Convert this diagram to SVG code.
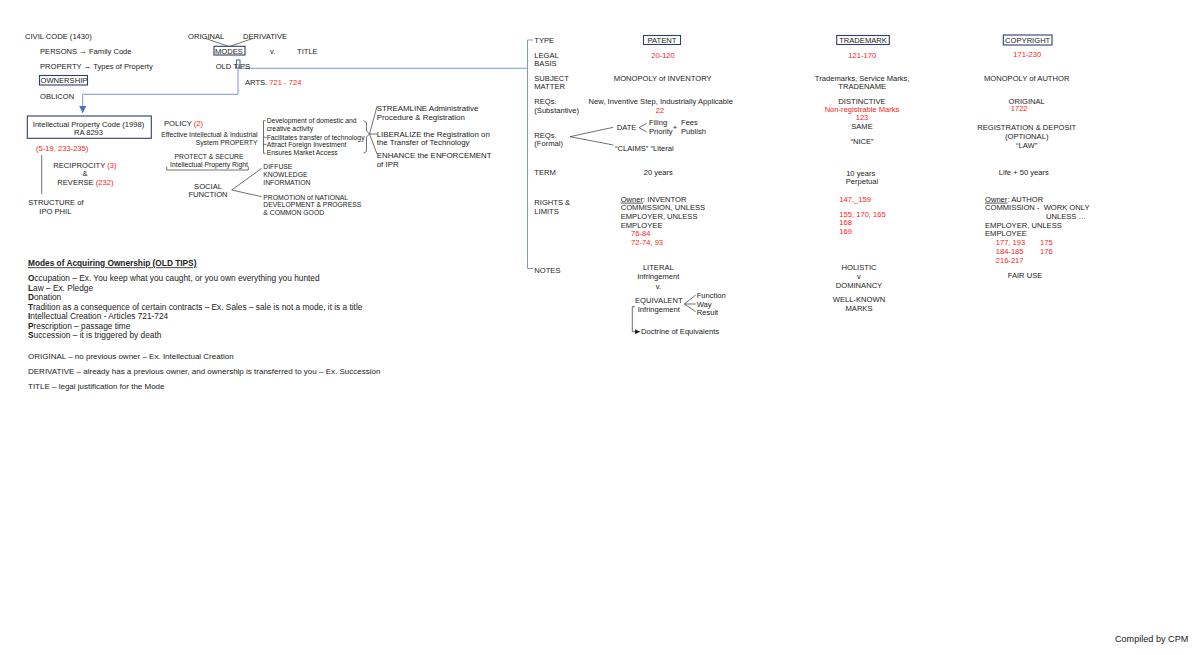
<svg xmlns="http://www.w3.org/2000/svg" width="1200" height="655" viewBox="0 0 1200 655">
<defs>
<style>
text{font-family:"Liberation Sans",Arial,sans-serif;font-size:7.6px;fill:#222}
.s{font-size:6.8px}
.l{font-size:7.9px}
.m{font-size:8.3px}
.n{font-size:8px}
.r{fill:#f22}
.c{text-anchor:middle}
.e{text-anchor:end}
.b{font-weight:bold}
.u{text-decoration:underline}
.box{fill:none;stroke:#2f3e6b;stroke-width:1.1}
.ln{fill:none;stroke:#333;stroke-width:0.7}
.bl{fill:none;stroke:#7a99d8;stroke-width:1}
</style>
<marker id="ab" viewBox="0 0 10 10" refX="10" refY="5" markerWidth="7" markerHeight="7" orient="auto" markerUnits="userSpaceOnUse"><path d="M0 0L10 5L0 10z" fill="#4a6fc0"/></marker>
<marker id="ak" viewBox="0 0 10 10" refX="10" refY="5" markerWidth="5" markerHeight="5" orient="auto" markerUnits="userSpaceOnUse"><path d="M0 0L10 5L0 10z" fill="#222"/></marker>
</defs>
<rect width="1200" height="655" fill="#fff"/>

<g id="connectors">
<path class="bl" d="M240 68.3H527.5"/>
<path class="bl" d="M533 40H527.5V268.5H533"/>
<path class="bl" d="M238 68.3V94.3H82.7V113" marker-end="url(#ab)"/>
<path class="ln" d="M205 38.3L228.5 46.3M253.3 38.3L230 46.3"/>
<path class="ln" d="M41.7 155V194.3"/>
<path class="ln" d="M166.7 166.7V170H248.3V166.7"/>
<path class="ln" d="M261.7 168.3L231.7 190L261.7 196.7"/>
<path class="ln" d="M265.5 120.7H263.5V153.3H265.5M263.5 137.3H266.5M263.5 144.3H266.5"/>
<path class="ln" d="M363.5 120.7L366.5 122.5V131L369.5 134L366.5 137V151.5L363.5 153.3"/>
<path class="ln" d="M369.5 134L377 106.5M369.5 134H377M369.5 134L377 154"/>
<path class="ln" d="M613.3 127.3L570 136.7L613.3 145"/>
<path class="ln" d="M646.7 123.3L639 127.7L646.7 132"/>
<path class="ln" d="M695.7 295L684.3 304L695.7 311.7M684.3 304H695.7"/>
<path class="ln" d="M635 306.7H632.3V331.7H640" marker-end="url(#ak)"/>
</g>

<g id="civil-code">
<text x="25" y="38.5">CIVIL CODE (1430)</text>
<text x="40" y="53.5">PERSONS → Family Code</text>
<text x="40" y="69">PROPERTY → Types of Property</text>
<rect class="box" x="39.5" y="75.5" width="48" height="9.5"/>
<text x="40.5" y="83">OWNERSHIP</text>
<text x="40" y="98.5">OBLICON</text>
</g>

<g id="modes">
<text x="188" y="38.5">ORIGINAL</text>
<text x="243" y="38.5">DERIVATIVE</text>
<rect class="box" x="214" y="46.3" width="31" height="8.7"/>
<text x="215" y="53.5">MODES</text>
<text x="270" y="53.5">v.</text>
<text x="297" y="53.5">TITLE</text>
<text x="215.7" y="69">OLD TIPS</text>
<rect x="236.5" y="60" width="3.5" height="8" fill="none" stroke="#3a5a9a" stroke-width="0.9"/>
<text x="245" y="85">ARTS. <tspan class="r">721 - 724</tspan></text>
</g>

<g id="ipc">
<rect class="box" x="27.3" y="116" width="124" height="22.3" stroke-width="1.4"/>
<text class="c" x="88.5" y="126.7">Intellectual Property Code (1998)</text>
<text class="c" x="88.5" y="135">RA 8293</text>
<text class="r" x="36" y="151">(5-19, 233-235)</text>
<text x="53.3" y="167.7">RECIPROCITY <tspan class="r">(3)</tspan></text>
<text class="c" x="85" y="176">&amp;</text>
<text x="57.3" y="184.5">REVERSE <tspan class="r">(232)</tspan></text>
<text x="28.3" y="205">STRUCTURE of</text>
<text x="39.3" y="213.8">IPO PHIL</text>
</g>

<g id="policy">
<text x="164" y="126">POLICY <tspan class="r">(2)</tspan></text>
<text class="s e" x="257.5" y="136.5">Effective Intellectual &amp; Industrial</text>
<text class="s e" x="257.5" y="144.5">System PROPERTY</text>
<text class="s c" x="209" y="158.5">PROTECT &amp; SECURE</text>
<text class="s c" x="209" y="166.5">Intellectual Property Right</text>
<text class="c" x="208" y="188.8">SOCIAL</text>
<text class="c" x="208" y="197">FUNCTION</text>
<text class="s" x="263.3" y="169">DIFFUSE</text>
<text class="s" x="263.3" y="177.3">KNOWLEDGE</text>
<text class="s" x="263.3" y="185">INFORMATION</text>
<text class="s" x="263.3" y="199.7">PROMOTION of NATIONAL</text>
<text class="s" x="263.3" y="207.3">DEVELOPMENT &amp; PROGRESS</text>
<text class="s" x="263.3" y="215">&amp; COMMON GOOD</text>
</g>

<g id="policy-list">
<text class="s" x="266.7" y="123.3">Development of domestic and</text>
<text class="s" x="266.7" y="131.3">creative activity</text>
<text class="s" x="266.7" y="139.6">Facilitates transfer of technology</text>
<text class="s" x="266.7" y="146.6">Attract Foreign Investment</text>
<text class="s" x="266.7" y="154.6">Ensures Market Access</text>
</g>

<g id="objectives">
<text class="l" x="376.7" y="110.6">STREAMLINE Administrative</text>
<text class="l" x="376.7" y="120">Procedure &amp; Registration</text>
<text class="l" x="376.7" y="137">LIBERALIZE the Registration on</text>
<text class="l" x="376.7" y="145.3">the Transfer of Technology</text>
<text class="l" x="376.7" y="157.5">ENHANCE the ENFORCEMENT</text>
<text class="l" x="376.7" y="166.6">of IPR</text>
</g>

<g id="row-labels">
<text x="534.3" y="42.7">TYPE</text>
<text x="534.3" y="57.7">LEGAL</text>
<text x="534.3" y="66">BASIS</text>
<text x="534.3" y="81">SUBJECT</text>
<text x="534.3" y="89.4">MATTER</text>
<text x="534.3" y="104.4">REQs.</text>
<text x="534.3" y="113.4">(Substantive)</text>
<text x="534.3" y="137.7">REQs.</text>
<text x="534.3" y="146">(Formal)</text>
<text x="534.3" y="175.4">TERM</text>
<text x="534.3" y="205">RIGHTS &amp;</text>
<text x="534.3" y="213.7">LIMITS</text>
<text x="534.3" y="272.7">NOTES</text>
</g>

<g id="patent">
<rect class="box" x="643.5" y="35.5" width="37" height="9"/>
<text class="c" x="662" y="42.7">PATENT</text>
<text class="c r" x="663" y="57.7">20-120</text>
<text class="c" x="662.7" y="81">MONOPOLY of INVENTORY</text>
<text class="c" x="660.8" y="104.4">New, Inventive Step, Industrially Applicable</text>
<text class="c r" x="660" y="113.4">22</text>
<text x="616.7" y="130.4">DATE</text>
<text x="649" y="125.4">Filing</text>
<text x="649" y="133.7">Priority</text>
<text class="c" x="675" y="130.2">+</text>
<text x="681" y="125.4">Fees</text>
<text x="681" y="133.7">Publish</text>
<text x="615" y="151">“CLAIMS” “Literal</text>
<text class="c" x="658.3" y="175.4">20 years</text>
<text x="620.7" y="201.7"><tspan class="u">Owner</tspan>: INVENTOR</text>
<text x="620.7" y="210">COMMISSION, UNLESS</text>
<text x="620.7" y="218.7">EMPLOYER, UNLESS</text>
<text x="620.7" y="227.7">EMPLOYEE</text>
<text class="r" x="631" y="236">76-84</text>
<text class="r" x="631" y="244.7">72-74, 93</text>
<text class="c" x="658.3" y="270.4">LITERAL</text>
<text class="c" x="658.3" y="279.4">Infringement</text>
<text class="c" x="658.3" y="288.7">v.</text>
<text x="635" y="302.7">EQUIVALENT</text>
<text x="637.7" y="311.7">Infringement</text>
<text x="696.7" y="297.7">Function</text>
<text x="696.7" y="306.7">Way</text>
<text x="696.7" y="315.4">Result</text>
<text x="641" y="334.4">Doctrine of Equivalents</text>
</g>

<g id="trademark">
<rect class="box" x="836.7" y="35.5" width="52.6" height="9"/>
<text class="c" x="863" y="42.7">TRADEMARK</text>
<text class="c r" x="862.3" y="57.7">121-170</text>
<text class="c" x="862.2" y="81">Trademarks, Service Marks,</text>
<text class="c" x="862.2" y="89.4">TRADENAME</text>
<text class="c" x="862" y="104.4">DISTINCTIVE</text>
<text class="c r" x="862" y="112">Non-registrable Marks</text>
<text class="c r" x="862" y="120.4">123</text>
<text class="c" x="862" y="129.4">SAME</text>
<text class="c" x="862" y="144.4">“NICE”</text>
<text class="c" x="860.7" y="176">10 years</text>
<text class="c" x="862" y="184.4">Perpetual</text>
<text class="r" x="839.3" y="202">147,_159</text>
<text class="r" x="839.3" y="217">155, 170, 165</text>
<text class="r" x="839.3" y="225.4">168</text>
<text class="r" x="839.3" y="233.7">169</text>
<text class="c" x="859" y="270.4">HOLISTIC</text>
<text class="c" x="859" y="278.7">v</text>
<text class="c" x="859" y="287.7">DOMINANCY</text>
<text class="c" x="859" y="302">WELL-KNOWN</text>
<text class="c" x="859" y="311">MARKS</text>
</g>

<g id="copyright">
<rect class="box" x="1003.3" y="35" width="48.7" height="10"/>
<text class="c" x="1027.7" y="42.7">COPYRIGHT</text>
<text class="c r" x="1027.3" y="56.7">171-230</text>
<text class="c" x="1026.7" y="81">MONOPOLY of AUTHOR</text>
<text class="c" x="1026.7" y="103.7">ORIGINAL</text>
<text class="r" x="1010.7" y="111">1722</text>
<text class="c" x="1026.7" y="130">REGISTRATION &amp; DEPOSIT</text>
<text class="c" x="1026.7" y="139.4">(OPTIONAL)</text>
<text class="c" x="1026.7" y="147.7">“LAW”</text>
<text class="c" x="1023.8" y="175.4">Life + 50 years</text>
<text x="985" y="201.7"><tspan class="u">Owner</tspan>: AUTHOR</text>
<text x="985" y="210.4" xml:space="preserve">COMMISSION -  WORK ONLY</text>
<text x="1046" y="219.4">UNLESS …</text>
<text x="985" y="227.7">EMPLOYER, UNLESS</text>
<text x="985" y="236">EMPLOYEE</text>
<text class="r" x="995.7" y="245">177, 193</text>
<text class="r" x="1040" y="245">175</text>
<text class="r" x="995.7" y="253.7">184-185</text>
<text class="r" x="1040" y="253.7">176</text>
<text class="r" x="995.7" y="262.7">216-217</text>
<text class="c" x="1025" y="278.4">FAIR USE</text>
</g>

<g id="modes-notes">
<text class="m b u" x="28" y="266.3">Modes of Acquiring Ownership (OLD TIPS)</text>
<text class="m" x="28" y="280.7"><tspan class="b">O</tspan>ccupation – Ex. You keep what you caught, or you own everything you hunted</text>
<text class="m" x="28" y="290.7"><tspan class="b">L</tspan>aw – Ex. Pledge</text>
<text class="m" x="28" y="300.3"><tspan class="b">D</tspan>onation</text>
<text class="m" x="28" y="309.7"><tspan class="b">T</tspan>radition as a consequence of certain contracts – Ex. Sales – sale is not a mode, it is a title</text>
<text class="m" x="28" y="319"><tspan class="b">I</tspan>ntellectual Creation - Articles 721-724</text>
<text class="m" x="28" y="329"><tspan class="b">P</tspan>rescription – passage time</text>
<text class="m" x="28" y="338.3"><tspan class="b">S</tspan>uccession – it is triggered by death</text>
<text class="n" x="28" y="359.2">ORIGINAL – no previous owner – Ex. Intellectual Creation</text>
<text class="n" x="28" y="374.2">DERIVATIVE – already has a previous owner, and ownership is transferred to you – Ex. Succession</text>
<text class="n" x="28" y="389.2">TITLE – legal justification for the Mode</text>
</g>

<g id="footer">
<text x="1115" y="642" style="font-size:9.1px">Compiled by CPM</text>
</g>
</svg>
